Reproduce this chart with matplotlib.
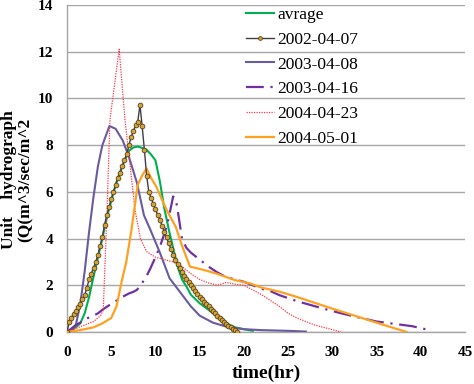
import matplotlib
matplotlib.use("Agg")
import matplotlib.pyplot as plt

plt.rcParams['font.family'] = 'serif'
plt.rcParams['font.serif'] = ['Liberation Serif', 'DejaVu Serif']

# average unit hydrograph
t_avg = [0, 0.5, 1, 1.5, 2, 2.5, 3, 3.5, 4, 4.5, 5, 5.5, 6, 6.5, 7, 7.5, 8, 8.5, 9, 9.5,
         10, 10.5, 11, 11.5, 12, 12.5, 13, 13.5, 14, 15, 16, 16.5, 17, 18, 19, 20, 21]
q_avg = [0, 0.08, 0.2, 0.37, 0.8, 1.5, 2.37, 3.2, 4.0, 4.9, 5.6, 6.3, 6.85, 7.35, 7.75, 7.9, 7.94, 7.88, 7.8, 7.6,
         7.35, 6.45, 5.3, 4.4, 3.6, 2.8, 2.25, 1.95, 1.6, 1.23, 0.95, 0.8, 0.65, 0.37, 0.2, 0.12, 0.05]

# 2002-04-07 (15 min steps)
t_0207 = [0, 0.25, 0.5, 0.75, 1, 1.25, 1.5, 1.75, 2, 2.25, 2.5, 2.75, 3, 3.25, 3.5, 3.75,
          4, 4.25, 4.5, 4.75, 5, 5.25, 5.5, 5.75, 6, 6.25, 6.5, 6.75, 7, 7.25, 7.5, 7.75,
          8, 8.25, 8.5, 8.75, 9, 9.25, 9.5, 9.75, 10, 10.25, 10.5, 10.75, 11, 11.25, 11.5, 11.75,
          12, 12.25, 12.5, 12.75, 13, 13.25, 13.5, 13.75, 14, 14.25, 14.5, 14.75, 15, 15.25, 15.5, 15.75,
          16, 16.25, 16.5, 16.75, 17, 17.25, 17.5, 17.75, 18, 18.25, 18.5, 18.75, 19, 19.25]
q_0207 = [0, 0.42, 0.62, 0.78, 0.9, 1.05, 1.22, 1.4, 1.58, 1.9, 2.25, 2.5, 2.75, 3.0, 3.3, 3.7,
          4.08, 4.6, 5.0, 5.35, 5.7, 6.0, 6.3, 6.6, 6.8, 7.1, 7.35, 7.6, 8.0, 8.35, 8.6, 8.85,
          9.0, 9.72, 8.8, 7.8, 6.7, 6.0, 5.75, 5.5, 5.25, 5.02, 4.8, 4.55, 4.3, 4.05, 3.8, 3.55,
          3.3, 3.1, 2.9, 2.72, 2.55, 2.4, 2.25, 2.12, 2.0, 1.87, 1.75, 1.62, 1.5, 1.4, 1.3, 1.2,
          1.1, 1.0, 0.9, 0.8, 0.7, 0.6, 0.5, 0.42, 0.35, 0.27, 0.2, 0.13, 0.07, 0]

# 2003-04-08
t_0308 = [0, 0.5, 1, 1.5, 2, 2.5, 3, 3.5, 4, 4.8, 5.5, 6.3, 7, 7.9, 8.7, 9.4, 10.5, 11.6,
          12.8, 14, 15, 16.5, 18, 20, 22, 25, 27]
q_0308 = [0, 0.05, 0.3, 1.2, 2.6, 4.3, 5.8, 7.1, 8.0, 8.82, 8.7, 8.2, 7.5, 6.4, 5.0, 4.4, 3.4, 2.3,
          1.7, 1.1, 0.7, 0.4, 0.23, 0.12, 0.08, 0.05, 0.02]

# 2003-04-16
t_0316 = [0, 0.5, 1, 1.5, 2, 2.5, 3, 3.5, 4, 4.5, 5, 5.5, 6, 6.5, 7, 7.5, 7.9, 8.5, 9, 9.4,
          10, 10.5, 11, 11.45, 12, 12.3, 12.6, 13, 13.5, 14, 15, 16, 17, 18, 19, 20, 21, 22,
          23, 24, 25, 26, 27.5, 29, 31, 33, 35, 37, 39, 41]
q_0316 = [0, 0.15, 0.3, 0.4, 0.55, 0.62, 0.7, 0.8, 0.95, 1.08, 1.2, 1.32, 1.44, 1.55, 1.65, 1.72, 1.8, 2.1, 2.4, 2.7,
          3.2, 3.65, 4.2, 4.8, 5.8, 5.7, 5.0, 4.0, 3.6, 3.4, 3.1, 2.8, 2.55, 2.35, 2.25, 2.15, 2.0, 1.85,
          1.75, 1.58, 1.45, 1.32, 1.16, 1.0, 0.8, 0.62, 0.45, 0.35, 0.25, 0.08]

# 2004-04-23
t_0423 = [0, 1, 2, 3, 3.8, 4.1, 4.5, 4.86, 5.9, 6.55, 7.2, 7.7, 8.3, 9, 10, 11, 12, 13, 14, 15,
          16, 17, 18, 19, 20, 21, 22, 23, 24, 25, 26, 27, 28, 29, 30, 31]
q_0423 = [0, 0.15, 0.3, 0.45, 0.7, 0.94, 4.9, 9.1, 12.1, 9.1, 6.9, 5.2, 4.0, 3.44, 3.2, 3.1, 3.0, 2.8, 2.5, 2.25,
          2.1, 2.0, 2.12, 2.05, 2.0, 1.8, 1.6, 1.35, 1.1, 0.8, 0.6, 0.45, 0.3, 0.2, 0.1, 0]

# 2004-05-01
t_0501 = [0, 1, 2, 3, 4, 5, 5.6, 6.2, 6.7, 7.3, 7.7, 8.0, 8.5, 9.0, 9.5, 10.1, 10.7, 11.3, 12.3,
          13.0, 13.9, 15, 16, 16.9, 18.4, 19, 20.7, 22, 24, 26, 28, 30, 32, 34, 36, 38.4]
q_0501 = [0, 0.05, 0.12, 0.2, 0.37, 0.6, 1.1, 2.2, 3.0, 4.4, 5.5, 6.3, 6.7, 7.0, 6.6, 6.22, 5.7, 5.2, 4.5,
          3.7, 2.8, 2.7, 2.6, 2.5, 2.3, 2.22, 2.08, 1.9, 1.73, 1.5, 1.25, 1.0, 0.76, 0.52, 0.28, 0]

x_ticks = [0, 5, 10, 15, 20, 25, 30, 35, 40, 45]
y_ticks = [0, 2, 4, 6, 8, 10, 12, 14]

fig = plt.figure(figsize=(4.74, 3.84), dpi=100)
ax = fig.add_axes([67 / 474, 52 / 384, 398 / 474, 327 / 384])

ax.plot(t_avg, q_avg, color='#00B050', lw=1.5, label='avrage', zorder=3)
ax.plot(t_0207, q_0207, color='#404040', lw=1.0, marker='o', ms=3.4,
        markerfacecolor='#D4A530', markeredgecolor='#5A4020', markeredgewidth=0.6,
        label='2002-04-07', zorder=4)
ax.plot(t_0308, q_0308, color='#6A5AA0', lw=1.5, label='2003-04-08', zorder=3)
ax.plot(t_0316, q_0316, color='#7030A0', lw=1.6, dashes=(8, 3, 1, 3),
        label='2003-04-16', zorder=3)
ax.plot(t_0423, q_0423, color='#FF3344', lw=0.9, linestyle=(0, (1, 1)),
        label='2004-04-23', zorder=3)
ax.plot(t_0501, q_0501, color='#FFA020', lw=1.6, label='2004-05-01', zorder=3)

ax.set_xlim(0, 45)
ax.set_ylim(0, 14)
ax.set_xticks(x_ticks)
ax.set_yticks(y_ticks)
ax.tick_params(length=0, labelsize=11, pad=10)
for lbl in ax.get_xticklabels() + ax.get_yticklabels():
    lbl.set_fontweight('bold')

ax.grid(axis='y', color='#A6A6A6', lw=1.0)
ax.set_axisbelow(True)
for s in ['top', 'right']:
    ax.spines[s].set_visible(False)
ax.spines['left'].set_color('#A6A6A6')
ax.spines['bottom'].set_color('#A6A6A6')
ax.spines['left'].set_linewidth(1.0)
ax.spines['bottom'].set_linewidth(1.0)

ax.set_xlabel('time(hr)', fontsize=14, fontweight='bold', labelpad=4)
fig.text(17 / 474, 1 - 180 / 384, 'Unit    hydrograph\n(Q(m^3/sec/m^2', rotation=90,
         ha='center', va='center', multialignment='center',
         fontsize=12.5, fontweight='bold', linespacing=1.05)

ax.legend(loc='upper left', bbox_to_anchor=(0.445, 1.0), frameon=False,
          fontsize=12.5, handlelength=1.6, handletextpad=0.2, labelspacing=0.5,
          borderpad=0.1, borderaxespad=0, markerscale=0.8)

fig.savefig('out.png', dpi=100)
